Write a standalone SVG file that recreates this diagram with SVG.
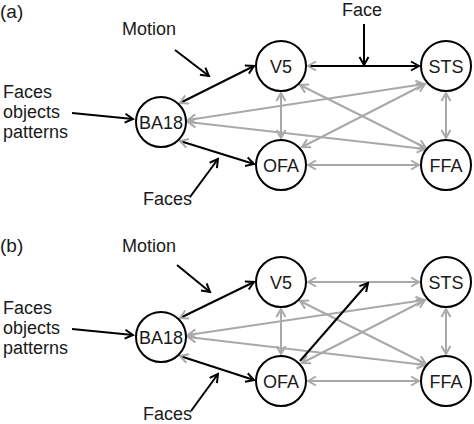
<svg xmlns="http://www.w3.org/2000/svg" width="474" height="424" viewBox="0 0 474 424">
<style>
text{font-family:"Liberation Sans",Arial,sans-serif;font-size:18px;fill:#1a1a1a}
.node circle{fill:#fff;stroke:#000;stroke-width:2}
.node text{text-anchor:middle}
.blk{stroke:#000;stroke-width:2;fill:none}
.gry{stroke:#a9a9a9;stroke-width:2;fill:none}
.panel{font-size:19px}
</style>
<defs>
<marker id="hb" viewBox="0 0 12 12" refX="10" refY="6" markerWidth="12" markerHeight="12" markerUnits="userSpaceOnUse" orient="auto-start-reverse">
<path d="M2,1.5 L10,6 L2,10.5" fill="none" stroke="#000" stroke-width="2"/>
</marker>
<marker id="hg" viewBox="0 0 12 12" refX="10" refY="6" markerWidth="12" markerHeight="12" markerUnits="userSpaceOnUse" orient="auto-start-reverse">
<path d="M2,1.5 L10,6 L2,10.5" fill="none" stroke="#a9a9a9" stroke-width="2"/>
</marker>
</defs>
<rect width="474" height="424" fill="#fff"/>

<g id="connectors">
<!-- panel a gray -->
<line class="gry" x1="281" y1="93" x2="281" y2="138" marker-start="url(#hg)" marker-end="url(#hg)"/>
<line class="gry" x1="446" y1="93" x2="446" y2="138" marker-start="url(#hg)" marker-end="url(#hg)"/>
<line class="gry" x1="308" y1="165" x2="419" y2="165" marker-start="url(#hg)" marker-end="url(#hg)"/>
<line class="gry" x1="300" y1="85" x2="426" y2="148" marker-start="url(#hg)" marker-end="url(#hg)"/>
<line class="gry" x1="302" y1="147" x2="425" y2="84" marker-start="url(#hg)" marker-end="url(#hg)"/>
<line class="gry" x1="188" y1="120" x2="424" y2="84" marker-start="url(#hg)" marker-end="url(#hg)"/>
<line class="gry" x1="188" y1="122" x2="425" y2="149" marker-start="url(#hg)" marker-end="url(#hg)"/>
<!-- panel a black -->
<line class="blk" x1="180" y1="103" x2="254" y2="66" marker-start="url(#hg)" marker-end="url(#hb)"/>
<line class="blk" x1="180" y1="141" x2="254" y2="164" marker-start="url(#hg)" marker-end="url(#hb)"/>
<line class="blk" x1="308" y1="66" x2="419" y2="66" marker-start="url(#hg)" marker-end="url(#hb)"/>
<line class="blk" x1="364" y1="24" x2="364" y2="65" marker-end="url(#hb)"/>
<line class="blk" x1="72" y1="113" x2="133" y2="119" marker-end="url(#hb)"/>
<line class="blk" x1="175" y1="50" x2="209" y2="76" marker-end="url(#hb)"/>
<line class="blk" x1="190" y1="197" x2="218" y2="159" marker-end="url(#hb)"/>

<!-- panel b gray -->
<line class="gry" x1="281" y1="309" x2="281" y2="354" marker-start="url(#hg)" marker-end="url(#hg)"/>
<line class="gry" x1="446" y1="309" x2="446" y2="354" marker-start="url(#hg)" marker-end="url(#hg)"/>
<line class="gry" x1="308" y1="381" x2="419" y2="381" marker-start="url(#hg)" marker-end="url(#hg)"/>
<line class="gry" x1="308" y1="282" x2="419" y2="282" marker-start="url(#hg)" marker-end="url(#hg)"/>
<line class="gry" x1="300" y1="301" x2="426" y2="364" marker-start="url(#hg)" marker-end="url(#hg)"/>
<line class="gry" x1="302" y1="363" x2="425" y2="300" marker-start="url(#hg)" marker-end="url(#hg)"/>
<line class="gry" x1="188" y1="335" x2="424" y2="300" marker-start="url(#hg)" marker-end="url(#hg)"/>
<line class="gry" x1="188" y1="337" x2="425" y2="365" marker-start="url(#hg)" marker-end="url(#hg)"/>
<!-- panel b black -->
<line class="blk" x1="180" y1="318" x2="254" y2="282" marker-start="url(#hg)" marker-end="url(#hb)"/>
<line class="blk" x1="180" y1="356" x2="254" y2="380" marker-start="url(#hg)" marker-end="url(#hb)"/>
<line class="blk" x1="300" y1="361" x2="368" y2="283" marker-end="url(#hb)"/>
<line class="blk" x1="72" y1="329" x2="133" y2="335" marker-end="url(#hb)"/>
<line class="blk" x1="177" y1="265" x2="210" y2="292" marker-end="url(#hb)"/>
<line class="blk" x1="191" y1="411" x2="218" y2="374" marker-end="url(#hb)"/>
</g>

<!-- panel a nodes -->
<g id="a-BA18" class="node"><circle cx="161" cy="122" r="25"/><text x="161" y="128.5">BA18</text></g>
<g id="a-V5" class="node"><circle cx="281" cy="66" r="25"/><text x="281" y="72.5">V5</text></g>
<g id="a-STS" class="node"><circle cx="446" cy="66" r="25"/><text x="446" y="72.5">STS</text></g>
<g id="a-OFA" class="node"><circle cx="281" cy="165" r="25"/><text x="281" y="171.5">OFA</text></g>
<g id="a-FFA" class="node"><circle cx="446" cy="165" r="25"/><text x="446" y="171.5">FFA</text></g>

<!-- panel b nodes -->
<g id="b-BA18" class="node"><circle cx="161" cy="337" r="25"/><text x="161" y="343.5">BA18</text></g>
<g id="b-V5" class="node"><circle cx="281" cy="282" r="25"/><text x="281" y="288.5">V5</text></g>
<g id="b-STS" class="node"><circle cx="446" cy="282" r="25"/><text x="446" y="288.5">STS</text></g>
<g id="b-OFA" class="node"><circle cx="281" cy="381" r="25"/><text x="281" y="387.5">OFA</text></g>
<g id="b-FFA" class="node"><circle cx="446" cy="381" r="25"/><text x="446" y="387.5">FFA</text></g>

<g id="labels">
<text class="panel" x="0" y="18">(a)</text>
<text x="122" y="35">Motion</text>
<text x="342" y="16">Face</text>
<text x="3" y="98">Faces</text>
<text x="3" y="118">objects</text>
<text x="3" y="138">patterns</text>
<text x="143" y="205">Faces</text>

<text class="panel" x="0" y="252">(b)</text>
<text x="122" y="252">Motion</text>
<text x="3" y="314">Faces</text>
<text x="3" y="334">objects</text>
<text x="3" y="354">patterns</text>
<text x="143" y="420">Faces</text>
</g>
</svg>
